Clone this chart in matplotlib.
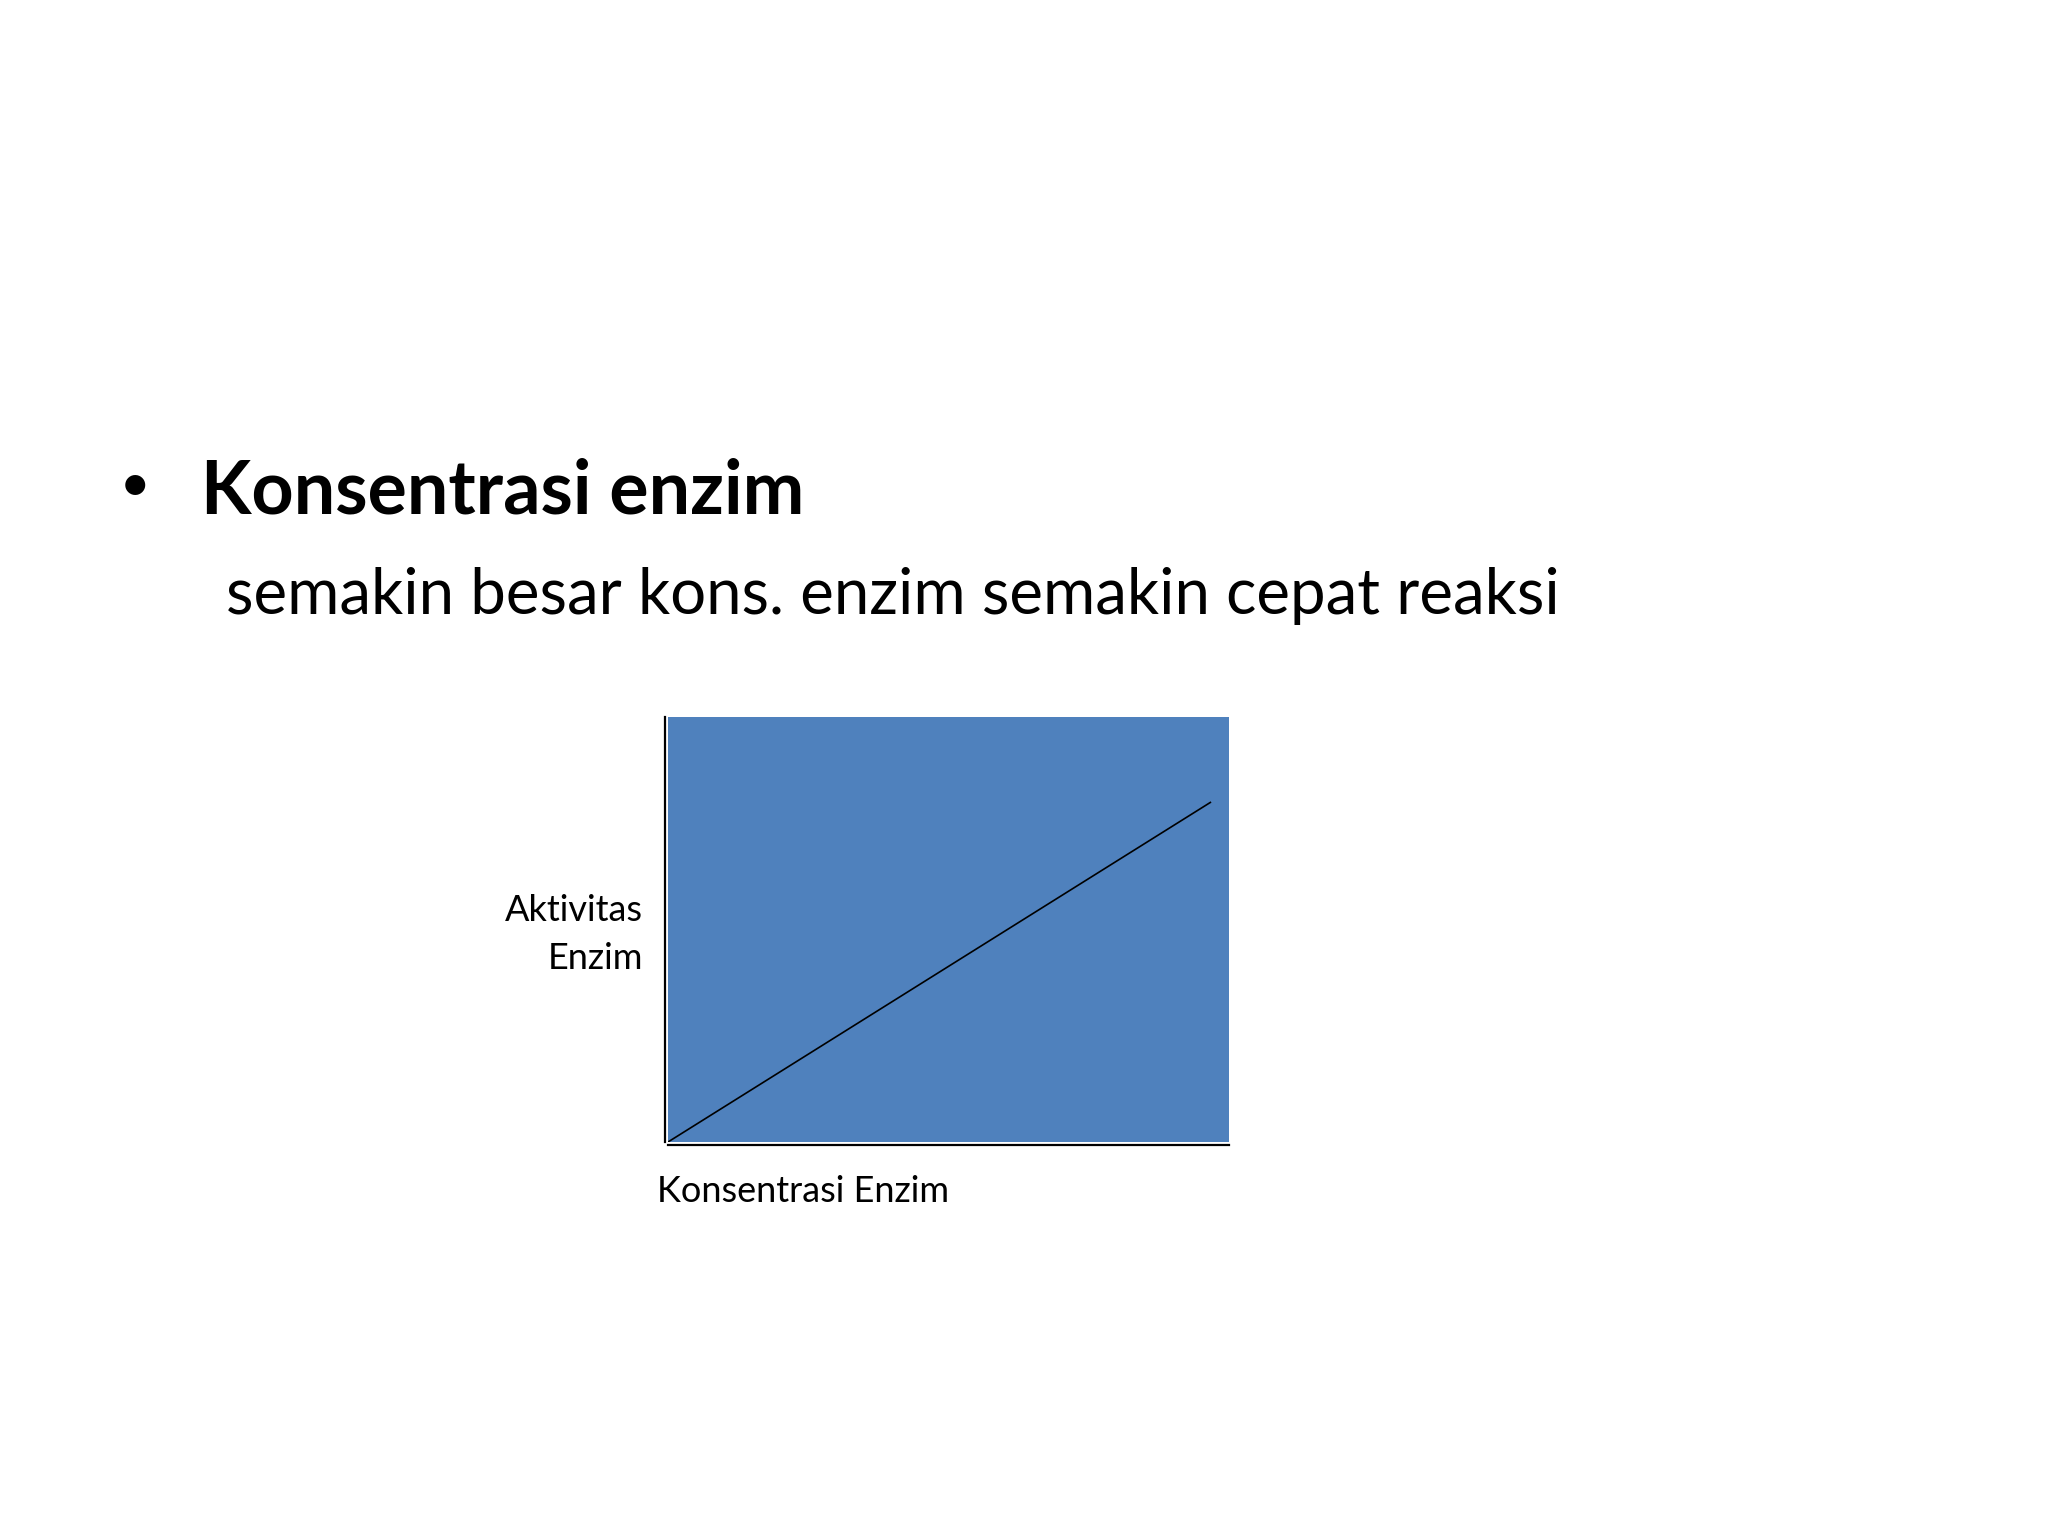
import matplotlib
matplotlib.use("Agg")
import matplotlib.pyplot as plt

# Data
konsentrasi = [0.0, 0.968]
aktivitas = [0.0, 0.80]

title = "Konsentrasi enzim"
subtitle = "semakin besar kons. enzim semakin cepat reaksi"
ylabel_lines = ["Aktivitas", "Enzim"]
xlabel = "Konsentrasi Enzim"

W, H = 2048, 1536
fig = plt.figure(figsize=(W / 100, H / 100), dpi=100)
fig.patch.set_facecolor("white")
plt.rcParams["font.family"] = ["Lato", "DejaVu Sans"]

def fx(px):
    return px / W

def fy(py):
    return 1 - py / H

# Axes (blue plot area)
left, right, top, bottom = 668, 1229, 717, 1142
ax = fig.add_axes([fx(left), fy(bottom), fx(right - left), (bottom - top) / H])
ax.set_facecolor("#4f81bd")
ax.plot(konsentrasi, aktivitas, color="black", linewidth=1.2, solid_capstyle="butt")
ax.set_xlim(0, 1)
ax.set_ylim(0, 1)
ax.set_xticks([])
ax.set_yticks([])
for s in ["top", "right"]:
    ax.spines[s].set_visible(False)
for s in ["left", "bottom"]:
    ax.spines[s].set_color("black")
    ax.spines[s].set_linewidth(1.6)
    ax.spines[s].set_position(("outward", 2.2))

# Title texts
fig.text(fx(135), fy(486), "\u2022", fontsize=33, fontweight="bold",
         ha="center", va="center", family=["Lato", "DejaVu Sans"])
fig.text(fx(201), fy(513), title, fontsize=53, fontweight="bold",
         ha="left", va="baseline")
fig.text(fx(226), fy(614), subtitle, fontsize=45.7,
         ha="left", va="baseline")

# Axis labels
fig.text(fx(643), fy(921), ylabel_lines[0], fontsize=26, ha="right", va="baseline")
fig.text(fx(643), fy(969), ylabel_lines[1], fontsize=26, ha="right", va="baseline")
fig.text(fx(657), fy(1202), xlabel, fontsize=26, ha="left", va="baseline")

fig.savefig("out.png", dpi=100, facecolor="white")
